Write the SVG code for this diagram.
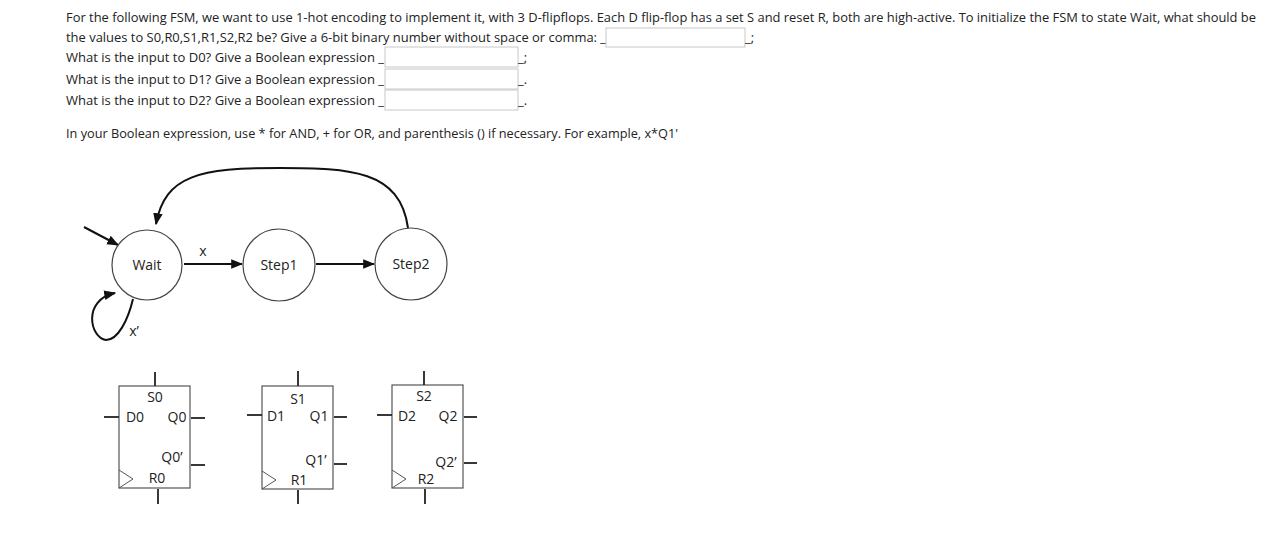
<svg xmlns="http://www.w3.org/2000/svg" width="1280" height="552" viewBox="0 0 1280 552">
<defs>
<style>
text{font-family:"Open Sans","Liberation Sans",sans-serif;fill:#222}
.q{font-size:13px}
.box{fill:#fff;stroke:#c8c8c8;stroke-width:1}
.st{fill:#fff;stroke:#444;stroke-width:1.2}
.lbl{font-size:14px;text-anchor:middle}
.ff{fill:#fff;stroke:#555;stroke-width:1.2}
.pin{stroke:#222;stroke-width:1.8}
.ed{fill:none;stroke:#111;stroke-width:2}
</style>
<marker id="ah" viewBox="0 0 10 10" refX="9" refY="5" markerWidth="6" markerHeight="6" orient="auto"><path d="M0,1L10,5L0,9z" fill="#111"/></marker>
</defs>
<rect width="1280" height="552" fill="#fff"/>
<g id="question">
<text class="q" x="66" y="22" textLength="1190" lengthAdjust="spacingAndGlyphs">For the following FSM, we want to use 1-hot encoding to implement it, with 3 D-flipflops. Each D flip-flop has a set S and reset R, both are high-active.  To initialize the FSM to state Wait, what should be</text>
<text class="q" x="66" y="42" textLength="540" lengthAdjust="spacingAndGlyphs">the values to S0,R0,S1,R1,S2,R2 be? Give a 6-bit binary number without space or comma: _</text>
<rect class="box" x="606" y="28" width="139" height="19"/>
<text class="q" x="745" y="42">_;</text>
<text class="q" x="66" y="62" textLength="318" lengthAdjust="spacingAndGlyphs">What is the input to D0? Give a Boolean expression  _</text>
<rect class="box" x="385" y="47" width="133" height="20"/>
<text class="q" x="518" y="62">_;</text>
<text class="q" x="66" y="84" textLength="318" lengthAdjust="spacingAndGlyphs">What is the input to D1? Give a Boolean expression _</text>
<rect class="box" x="385" y="69" width="133" height="20"/>
<text class="q" x="518" y="84">_.</text>
<text class="q" x="66" y="105" textLength="318" lengthAdjust="spacingAndGlyphs">What is the input to D2? Give a Boolean expression _</text>
<rect class="box" x="385" y="90" width="133" height="20"/>
<text class="q" x="518" y="105">_.</text>
<text class="q" x="66" y="138" textLength="612" lengthAdjust="spacingAndGlyphs">In your Boolean expression, use * for AND, + for OR, and parenthesis () if necessary. For example, x*Q1'</text>
</g>
<g id="connectors">
<path class="ed" d="M408,228 C400,170 350,168 280,168 C200,168 165,175 156,224" marker-end="url(#ah)"/>
<path class="ed" d="M84,227 L118,245" marker-end="url(#ah)"/>
<path class="ed" d="M133,299 C128,320 118,340 106,340 C90,338 82,300 115,293" marker-end="url(#ah)"/>
<path class="ed" d="M184,264 L242,264" marker-end="url(#ah)"/>
<path class="ed" d="M316,264 L374,264" marker-end="url(#ah)"/>
<text class="lbl" x="203" y="256" font-size="12">x</text>
<text class="lbl" x="134" y="336" font-size="12">x’</text>
</g>
<g id="wait"><circle class="st" cx="147" cy="265" r="35"/><text class="lbl" x="147" y="270">Wait</text></g>
<g id="step1"><circle class="st" cx="279" cy="265" r="36"/><text class="lbl" x="279" y="270">Step1</text></g>
<g id="step2"><circle class="st" cx="411" cy="264" r="36"/><text class="lbl" x="411" y="269">Step2</text></g>
<g id="ff0">
<rect class="ff" x="119" y="386" width="71" height="102"/>
<line class="pin" x1="155" y1="372" x2="155" y2="386"/><line class="pin" x1="158" y1="489" x2="158" y2="504"/>
<line class="pin" x1="104" y1="417" x2="119" y2="417"/><line class="pin" x1="191" y1="418" x2="205" y2="418"/><line class="pin" x1="191" y1="465" x2="205" y2="465"/>
<path d="M119,470 L133,479 L119,488" fill="none" stroke="#555"/>
<text class="lbl" x="155" y="402">S0</text><text class="lbl" x="135" y="422">D0</text><text class="lbl" x="177" y="422">Q0</text><text class="lbl" x="172" y="462">Q0’</text><text class="lbl" x="157" y="483">R0</text>
</g>
<g id="ff1">
<rect class="ff" x="262" y="386" width="71" height="103"/>
<line class="pin" x1="298" y1="371" x2="298" y2="386"/><line class="pin" x1="298" y1="490" x2="298" y2="504"/>
<line class="pin" x1="247" y1="415" x2="262" y2="415"/><line class="pin" x1="334" y1="417" x2="347" y2="417"/><line class="pin" x1="334" y1="464" x2="347" y2="464"/>
<path d="M262,471 L276,480 L262,489" fill="none" stroke="#555"/>
<text class="lbl" x="298" y="404">S1</text><text class="lbl" x="276" y="421">D1</text><text class="lbl" x="319" y="421">Q1</text><text class="lbl" x="316" y="465">Q1’</text><text class="lbl" x="299" y="485">R1</text>
</g>
<g id="ff2">
<rect class="ff" x="392" y="385" width="71" height="103"/>
<line class="pin" x1="424" y1="371" x2="424" y2="385"/><line class="pin" x1="425" y1="489" x2="425" y2="504"/>
<line class="pin" x1="377" y1="415" x2="392" y2="415"/><line class="pin" x1="464" y1="417" x2="477" y2="417"/><line class="pin" x1="464" y1="463" x2="477" y2="463"/>
<path d="M392,470 L406,479 L392,488" fill="none" stroke="#555"/>
<text class="lbl" x="424" y="401">S2</text><text class="lbl" x="407" y="421">D2</text><text class="lbl" x="448" y="421">Q2</text><text class="lbl" x="446" y="467">Q2’</text><text class="lbl" x="426" y="484">R2</text>
</g>
</svg>
